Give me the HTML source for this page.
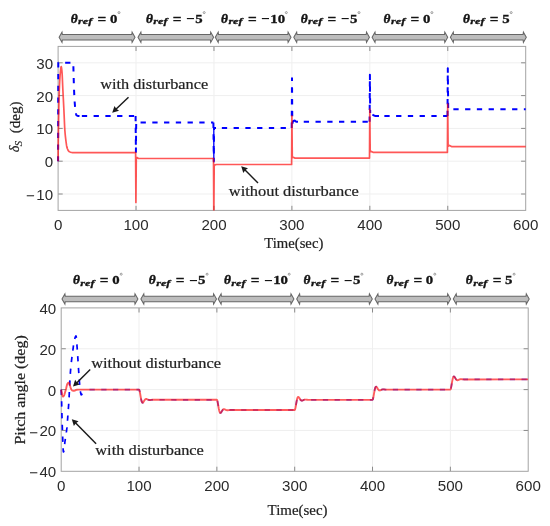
<!DOCTYPE html>
<html><head><meta charset="utf-8"><title>Figure</title><style>html,body{margin:0;padding:0;background:#fff;}svg{display:block;}</style></head><body>
<svg width="550" height="526" viewBox="0 0 550 526">
<rect width="550" height="526" fill="#fff"/>
<line x1="136.03" y1="46.4" x2="136.03" y2="210.4" stroke="#efefef" stroke-width="1"/>
<line x1="213.97" y1="46.4" x2="213.97" y2="210.4" stroke="#efefef" stroke-width="1"/>
<line x1="291.9" y1="46.4" x2="291.9" y2="210.4" stroke="#efefef" stroke-width="1"/>
<line x1="369.83" y1="46.4" x2="369.83" y2="210.4" stroke="#efefef" stroke-width="1"/>
<line x1="447.77" y1="46.4" x2="447.77" y2="210.4" stroke="#efefef" stroke-width="1"/>
<line x1="58.1" y1="194" x2="525.7" y2="194" stroke="#efefef" stroke-width="1"/>
<line x1="58.1" y1="161.2" x2="525.7" y2="161.2" stroke="#efefef" stroke-width="1"/>
<line x1="58.1" y1="128.4" x2="525.7" y2="128.4" stroke="#efefef" stroke-width="1"/>
<line x1="58.1" y1="95.6" x2="525.7" y2="95.6" stroke="#efefef" stroke-width="1"/>
<line x1="58.1" y1="62.8" x2="525.7" y2="62.8" stroke="#efefef" stroke-width="1"/>
<clipPath id="c1"><rect x="56.9" y="46.4" width="468.8" height="164"/></clipPath>
<path d="M136.03 210.4v-4.6M136.03 46.4v4.6M213.97 210.4v-4.6M213.97 46.4v4.6M291.9 210.4v-4.6M291.9 46.4v4.6M369.83 210.4v-4.6M369.83 46.4v4.6M447.77 210.4v-4.6M447.77 46.4v4.6M58.1 194h4.6M525.7 194h-4.6M58.1 161.2h4.6M525.7 161.2h-4.6M58.1 128.4h4.6M525.7 128.4h-4.6M58.1 95.6h4.6M525.7 95.6h-4.6M58.1 62.8h4.6M525.7 62.8h-4.6" stroke="#8a8a8a" stroke-width="1" fill="none"/>
<rect x="58.1" y="46.4" width="467.6" height="164" fill="none" stroke="#a3a3a3" stroke-width="1"/>
<g clip-path="url(#c1)"><path d="M58.1 161.2 L58.3 62.7 L73.3 62.7 L73.36 65.33 L73.42 67.9 L73.48 70.38 L73.54 72.75 L73.6 75 L73.7 78.62 L73.8 82.14 L73.9 85.44 L74 88.44 L74.1 91 L74.26 94.5 L74.42 97.62 L74.58 100.39 L74.74 102.84 L74.9 105 L75.04 106.75 L75.18 108.4 L75.32 109.87 L75.46 111.1 L75.6 112 L75.8 112.97 L76 113.82 L76.2 114.52 L76.4 115.02 L76.6 115.3 L76.88 115.5 L77.16 115.66 L77.44 115.78 L77.72 115.86 L78 115.9 L78.4 115.93 L78.8 115.96 L79.2 115.98 L79.6 116 L80 116" fill="none" stroke="#0000ff" stroke-width="2.0" stroke-dasharray="5.3 6.45" stroke-dashoffset="0.4" stroke-linejoin="round"/>
<path d="M80 116 L135.6 116" fill="none" stroke="#0000ff" stroke-width="2.0" stroke-dasharray="5.3 6.45" stroke-dashoffset="9.9" stroke-linejoin="round"/>
<path d="M135.6 116 L135.9 152 L136.2 122.6 L140 122.6" fill="none" stroke="#0000ff" stroke-width="2.0" stroke-dasharray="5.3 6.45" stroke-dashoffset="0" stroke-linejoin="round"/>
<path d="M140 122.6 L213.4 122.6" fill="none" stroke="#0000ff" stroke-width="2.0" stroke-dasharray="5.3 6.45" stroke-dashoffset="11.2" stroke-linejoin="round"/>
<path d="M213.4 122.6 L213.8 161.5 L214 127.9 L216 127.9" fill="none" stroke="#0000ff" stroke-width="2.0" stroke-dasharray="5.3 6.45" stroke-dashoffset="0" stroke-linejoin="round"/>
<path d="M216 127.9 L291.7 127.9" fill="none" stroke="#0000ff" stroke-width="2.0" stroke-dasharray="5.3 6.45" stroke-dashoffset="5.9" stroke-linejoin="round"/>
<path d="M291.7 127.9 L292 78.3 L292.3 123.5" fill="none" stroke="#0000ff" stroke-width="2.0" stroke-dasharray="5.3 6.45" stroke-dashoffset="0" stroke-linejoin="round"/>
<path d="M292.3 123.5 L292.55 122.65 L292.8 121.89 L293.05 121.31 L293.3 121 L293.6 120.84 L293.9 120.71 L294.2 120.63 L294.5 120.6 L294.88 120.74 L295.25 121.07 L295.62 121.41 L296 121.6 L296.5 121.68 L297 121.75 L297.5 121.79 L298 121.8" fill="none" stroke="#0000ff" stroke-width="2" stroke-linecap="butt"/>
<path d="M298 121.8 L369.6 121.8" fill="none" stroke="#0000ff" stroke-width="2.0" stroke-dasharray="5.3 6.45" stroke-dashoffset="6" stroke-linejoin="round"/>
<path d="M369.6 121.8 L369.9 74.8 L370.2 113" fill="none" stroke="#0000ff" stroke-width="2.0" stroke-dasharray="5.3 6.45" stroke-dashoffset="0" stroke-linejoin="round"/>
<path d="M372.6 114.4 L372.75 114.57 L372.9 114.73 L373.05 114.88 L373.2 115 L373.52 115.23 L373.85 115.43 L374.18 115.59 L374.5 115.7 L375 115.82 L375.5 115.91 L376 115.98 L376.5 116 L377.12 116 L377.75 116 L378.38 116 L379 116" fill="none" stroke="#0000ff" stroke-width="2"/>
<path d="M379 116 L447.5 116" fill="none" stroke="#0000ff" stroke-width="2.0" stroke-dasharray="5.3 6.45" stroke-dashoffset="6.4" stroke-linejoin="round"/>
<path d="M447.5 116 L447.8 68.2 L448.2 109.3" fill="none" stroke="#0000ff" stroke-width="2.0" stroke-dasharray="5.3 6.45" stroke-dashoffset="0" stroke-linejoin="round"/>
<path d="M448.2 109.3 L530 109.3" fill="none" stroke="#0000ff" stroke-width="2.0" stroke-dasharray="5.3 6.45" stroke-dashoffset="6.6" stroke-linejoin="round"/>
<path d="M213.8 127.6 L213.8 161" fill="none" stroke="#0000ff" stroke-width="1.3"/>
<path d="M58.1 161.2 L58.14 156.41 L58.18 151.83 L58.22 147.52 L58.26 143.55 L58.3 140 L58.36 135.24 L58.42 130.92 L58.48 126.97 L58.54 123.35 L58.6 120 L58.74 112.64 L58.88 105.74 L59.02 99.53 L59.16 94.21 L59.3 90 L59.48 85.69 L59.66 81.96 L59.84 78.79 L60.02 76.14 L60.2 74 L60.4 71.88 L60.6 69.88 L60.8 68.19 L61 67.03 L61.2 66.6 L61.36 66.9 L61.52 67.72 L61.68 68.93 L61.84 70.4 L62 72 L62.16 74.24 L62.32 77.44 L62.48 81.16 L62.64 84.99 L62.8 88.5 L63.02 92.85 L63.24 97.12 L63.46 101.35 L63.68 105.63 L63.9 110 L64.1 114.34 L64.3 119.01 L64.5 123.6 L64.7 127.7 L64.9 130.9 L65.12 133.56 L65.34 135.84 L65.56 137.83 L65.78 139.62 L66 141.3 L66.2 142.82 L66.4 144.31 L66.6 145.66 L66.8 146.79 L67 147.6 L67.42 148.79 L67.84 149.77 L68.26 150.55 L68.68 151.13 L69.1 151.5 L69.62 151.82 L70.14 152.08 L70.66 152.29 L71.18 152.43 L71.7 152.5 L72.36 152.53 L73.02 152.56 L73.68 152.58 L74.34 152.6 L75 152.6 L135.6 152.6 L135.9 202.4 L136.3 157.6 L137 157.6 L138.5 158.5 L213.5 158.5 L213.8 216 L214.2 165.6 L215 164.9 L216.5 164.5 L291.6 164.5 L291.9 115.8 L292.3 157.6 L293.2 157.3 L295 158.1 L369.5 158.1 L369.8 109 L370.2 151.8 L371 151.4 L373 152.3 L447.4 152.3 L447.7 104 L448.1 146.4 L449.5 145.4 L451.5 146.6 L530 146.6" fill="none" stroke="#ff0000" stroke-opacity="0.66" stroke-width="1.7" stroke-linejoin="round"/></g>
<g font-family="Liberation Sans, Arial, sans-serif" font-size="15.1" fill="#2b2b2b"><text x="58.1" y="229.8" text-anchor="middle">0</text>
<text x="136.03" y="229.8" text-anchor="middle">100</text>
<text x="213.97" y="229.8" text-anchor="middle">200</text>
<text x="291.9" y="229.8" text-anchor="middle">300</text>
<text x="369.83" y="229.8" text-anchor="middle">400</text>
<text x="447.77" y="229.8" text-anchor="middle">500</text>
<text x="525.7" y="229.8" text-anchor="middle">600</text>
<text x="53.1" y="200" text-anchor="end"><tspan dy="1.1">&#8722;</tspan><tspan dx="1.4" dy="-1.1">10</tspan></text>
<text x="53.1" y="167.2" text-anchor="end">0</text>
<text x="53.1" y="134.4" text-anchor="end">10</text>
<text x="53.1" y="101.6" text-anchor="end">20</text>
<text x="53.1" y="68.8" text-anchor="end">30</text></g>
<path d="M59.1 37.3 L62 32.2 L62.3 34.55 L131.8 34.55 L132.1 32.2 L135 37.3 L132.1 42.4 L131.8 40.05 L62.3 40.05 L62 42.4Z" fill="#bdbdbd" stroke="#666" stroke-width="1.05" stroke-linejoin="miter"/>
<g fill="#151515"><text x="70.7" y="22.8" font-family="Liberation Serif, serif" font-weight="bold" stroke="#151515" stroke-width="0.45" font-style="italic" font-size="13.3">&#952;</text><text x="78.1" y="24.3" font-family="Liberation Serif, serif" font-weight="bold" stroke="#151515" stroke-width="0.32" font-style="italic" font-size="8.6" textLength="14.2" lengthAdjust="spacingAndGlyphs">ref</text><text transform="translate(97.6 23.6) scale(1.22 1.2)" font-family="Liberation Serif, serif" font-weight="bold" font-size="12.6" stroke="#151515" stroke-width="0.3">=</text><text transform="translate(110 22.6) scale(1.14 1.04)" font-family="Liberation Serif, serif" font-weight="bold" stroke="#151515" stroke-width="0.32" font-size="13">0</text><circle cx="119" cy="12.6" r="1.0" fill="none" stroke="#777" stroke-width="0.7"/></g>
<path d="M138 37.3 L140.9 32.2 L141.2 34.55 L210.4 34.55 L210.7 32.2 L213.6 37.3 L210.7 42.4 L210.4 40.05 L141.2 40.05 L140.9 42.4Z" fill="#bdbdbd" stroke="#666" stroke-width="1.05" stroke-linejoin="miter"/>
<g fill="#151515"><text x="145.9" y="22.8" font-family="Liberation Serif, serif" font-weight="bold" stroke="#151515" stroke-width="0.45" font-style="italic" font-size="13.3">&#952;</text><text x="153.3" y="24.3" font-family="Liberation Serif, serif" font-weight="bold" stroke="#151515" stroke-width="0.32" font-style="italic" font-size="8.6" textLength="14.2" lengthAdjust="spacingAndGlyphs">ref</text><text transform="translate(172.8 23.6) scale(1.22 1.2)" font-family="Liberation Serif, serif" font-weight="bold" font-size="12.6" stroke="#151515" stroke-width="0.3">=</text><text transform="translate(186 23.9) scale(1.22 1.3)" font-family="Liberation Serif, serif" font-weight="bold" font-size="12.6">&#8722;</text><text transform="translate(195.2 22.6) scale(1.14 1.04)" font-family="Liberation Serif, serif" font-weight="bold" stroke="#151515" stroke-width="0.32" font-size="13">5</text><circle cx="204.2" cy="12.6" r="1.0" fill="none" stroke="#777" stroke-width="0.7"/></g>
<path d="M215.3 37.3 L218.2 32.2 L218.5 34.55 L287.8 34.55 L288.1 32.2 L291 37.3 L288.1 42.4 L287.8 40.05 L218.5 40.05 L218.2 42.4Z" fill="#bdbdbd" stroke="#666" stroke-width="1.05" stroke-linejoin="miter"/>
<g fill="#151515"><text x="221" y="22.8" font-family="Liberation Serif, serif" font-weight="bold" stroke="#151515" stroke-width="0.45" font-style="italic" font-size="13.3">&#952;</text><text x="228.4" y="24.3" font-family="Liberation Serif, serif" font-weight="bold" stroke="#151515" stroke-width="0.32" font-style="italic" font-size="8.6" textLength="14.2" lengthAdjust="spacingAndGlyphs">ref</text><text transform="translate(247.9 23.6) scale(1.22 1.2)" font-family="Liberation Serif, serif" font-weight="bold" font-size="12.6" stroke="#151515" stroke-width="0.3">=</text><text transform="translate(261.1 23.9) scale(1.22 1.3)" font-family="Liberation Serif, serif" font-weight="bold" font-size="12.6">&#8722;</text><text transform="translate(270.3 22.6) scale(1.14 1.04)" font-family="Liberation Serif, serif" font-weight="bold" stroke="#151515" stroke-width="0.32" font-size="13">10</text><circle cx="286.3" cy="12.6" r="1.0" fill="none" stroke="#777" stroke-width="0.7"/></g>
<path d="M293.8 37.3 L296.7 32.2 L297 34.55 L366.2 34.55 L366.5 32.2 L369.4 37.3 L366.5 42.4 L366.2 40.05 L297 40.05 L296.7 42.4Z" fill="#bdbdbd" stroke="#666" stroke-width="1.05" stroke-linejoin="miter"/>
<g fill="#151515"><text x="300.7" y="22.8" font-family="Liberation Serif, serif" font-weight="bold" stroke="#151515" stroke-width="0.45" font-style="italic" font-size="13.3">&#952;</text><text x="308.1" y="24.3" font-family="Liberation Serif, serif" font-weight="bold" stroke="#151515" stroke-width="0.32" font-style="italic" font-size="8.6" textLength="14.2" lengthAdjust="spacingAndGlyphs">ref</text><text transform="translate(327.6 23.6) scale(1.22 1.2)" font-family="Liberation Serif, serif" font-weight="bold" font-size="12.6" stroke="#151515" stroke-width="0.3">=</text><text transform="translate(340.8 23.9) scale(1.22 1.3)" font-family="Liberation Serif, serif" font-weight="bold" font-size="12.6">&#8722;</text><text transform="translate(350 22.6) scale(1.14 1.04)" font-family="Liberation Serif, serif" font-weight="bold" stroke="#151515" stroke-width="0.32" font-size="13">5</text><circle cx="359" cy="12.6" r="1.0" fill="none" stroke="#777" stroke-width="0.7"/></g>
<path d="M372.1 37.3 L375 32.2 L375.3 34.55 L444.5 34.55 L444.8 32.2 L447.7 37.3 L444.8 42.4 L444.5 40.05 L375.3 40.05 L375 42.4Z" fill="#bdbdbd" stroke="#666" stroke-width="1.05" stroke-linejoin="miter"/>
<g fill="#151515"><text x="383.6" y="22.8" font-family="Liberation Serif, serif" font-weight="bold" stroke="#151515" stroke-width="0.45" font-style="italic" font-size="13.3">&#952;</text><text x="391" y="24.3" font-family="Liberation Serif, serif" font-weight="bold" stroke="#151515" stroke-width="0.32" font-style="italic" font-size="8.6" textLength="14.2" lengthAdjust="spacingAndGlyphs">ref</text><text transform="translate(410.5 23.6) scale(1.22 1.2)" font-family="Liberation Serif, serif" font-weight="bold" font-size="12.6" stroke="#151515" stroke-width="0.3">=</text><text transform="translate(422.9 22.6) scale(1.14 1.04)" font-family="Liberation Serif, serif" font-weight="bold" stroke="#151515" stroke-width="0.32" font-size="13">0</text><circle cx="431.9" cy="12.6" r="1.0" fill="none" stroke="#777" stroke-width="0.7"/></g>
<path d="M450.4 37.3 L453.3 32.2 L453.6 34.55 L523.1 34.55 L523.4 32.2 L526.3 37.3 L523.4 42.4 L523.1 40.05 L453.6 40.05 L453.3 42.4Z" fill="#bdbdbd" stroke="#666" stroke-width="1.05" stroke-linejoin="miter"/>
<g fill="#151515"><text x="462.9" y="22.8" font-family="Liberation Serif, serif" font-weight="bold" stroke="#151515" stroke-width="0.45" font-style="italic" font-size="13.3">&#952;</text><text x="470.3" y="24.3" font-family="Liberation Serif, serif" font-weight="bold" stroke="#151515" stroke-width="0.32" font-style="italic" font-size="8.6" textLength="14.2" lengthAdjust="spacingAndGlyphs">ref</text><text transform="translate(489.8 23.6) scale(1.22 1.2)" font-family="Liberation Serif, serif" font-weight="bold" font-size="12.6" stroke="#151515" stroke-width="0.3">=</text><text transform="translate(502.2 22.6) scale(1.14 1.04)" font-family="Liberation Serif, serif" font-weight="bold" stroke="#151515" stroke-width="0.32" font-size="13">5</text><circle cx="511.2" cy="12.6" r="1.0" fill="none" stroke="#777" stroke-width="0.7"/></g>
<text x="100.2" y="89.3" font-family="Liberation Serif, serif" font-size="15.5" fill="#222" stroke="#222" stroke-width="0.22" text-anchor="start" textLength="108" lengthAdjust="spacingAndGlyphs">with disturbance</text>
<line x1="128.5" y1="97.2" x2="115.67" y2="109.48" stroke="#1a1a1a" stroke-width="1.45"/><path d="M112.2 112.8 L114.47 106.06 L116.32 108.86 L119.03 110.83Z" fill="#1a1a1a"/>
<text x="228.8" y="195.9" font-family="Liberation Serif, serif" font-size="15.5" fill="#222" stroke="#222" stroke-width="0.22" text-anchor="start" textLength="130" lengthAdjust="spacingAndGlyphs">without disturbance</text>
<line x1="258" y1="183" x2="244.59" y2="169.59" stroke="#1a1a1a" stroke-width="1.45"/><path d="M241.2 166.2 L247.99 168.32 L245.23 170.23 L243.32 172.99Z" fill="#1a1a1a"/>
<text x="264.3" y="247.7" font-family="Liberation Serif, serif" font-size="15.5" fill="#222" stroke="#222" stroke-width="0.22" text-anchor="start" textLength="59" lengthAdjust="spacingAndGlyphs">Time(sec)</text>
<g transform="translate(19.8 151.9) rotate(-90)" font-family="Liberation Serif, serif" fill="#222"><text x="-0.3" y="-1.1" font-style="italic" font-size="14.2" stroke="#222" stroke-width="0.22">&#948;</text><text x="5.7" y="1.9" font-style="italic" font-size="10.8" stroke="#222" stroke-width="0.12">S</text><text x="18.6" y="0" font-size="15.5" stroke="#222" stroke-width="0.22" textLength="31.9" lengthAdjust="spacingAndGlyphs">(deg)</text></g>
<line x1="139.03" y1="307.9" x2="139.03" y2="471.3" stroke="#efefef" stroke-width="1"/>
<line x1="216.87" y1="307.9" x2="216.87" y2="471.3" stroke="#efefef" stroke-width="1"/>
<line x1="294.7" y1="307.9" x2="294.7" y2="471.3" stroke="#efefef" stroke-width="1"/>
<line x1="372.53" y1="307.9" x2="372.53" y2="471.3" stroke="#efefef" stroke-width="1"/>
<line x1="450.37" y1="307.9" x2="450.37" y2="471.3" stroke="#efefef" stroke-width="1"/>
<line x1="61.2" y1="430.45" x2="528.2" y2="430.45" stroke="#efefef" stroke-width="1"/>
<line x1="61.2" y1="389.6" x2="528.2" y2="389.6" stroke="#efefef" stroke-width="1"/>
<line x1="61.2" y1="348.75" x2="528.2" y2="348.75" stroke="#efefef" stroke-width="1"/>
<clipPath id="c2"><rect x="60" y="307.9" width="468.2" height="163.4"/></clipPath>
<path d="M139.03 471.3v-4.6M139.03 307.9v4.6M216.87 471.3v-4.6M216.87 307.9v4.6M294.7 471.3v-4.6M294.7 307.9v4.6M372.53 471.3v-4.6M372.53 307.9v4.6M450.37 471.3v-4.6M450.37 307.9v4.6M61.2 430.45h4.6M528.2 430.45h-4.6M61.2 389.6h4.6M528.2 389.6h-4.6M61.2 348.75h4.6M528.2 348.75h-4.6" stroke="#8a8a8a" stroke-width="1" fill="none"/>
<rect x="61.2" y="307.9" width="467" height="163.4" fill="none" stroke="#a3a3a3" stroke-width="1"/>
<g clip-path="url(#c2)"><path d="M61.2 389.6 L61.26 390.75 L61.32 392.08 L61.38 393.58 L61.44 395.22 L61.5 397 L61.58 399.83 L61.66 403.23 L61.74 406.87 L61.82 410.44 L61.9 413.6 L62.04 418.46 L62.18 423.04 L62.32 427.33 L62.46 431.32 L62.6 435 L62.76 439.35 L62.92 443.88 L63.08 447.95 L63.24 450.88 L63.4 452 L63.52 451.92 L63.64 451.69 L63.76 451.36 L63.88 450.95 L64 450.5 L64.18 449.41 L64.36 447.73 L64.54 445.73 L64.72 443.72 L64.9 442 L65.3 439.03 L65.7 436.48 L66.1 433.99 L66.5 431.25 L66.9 427.9 L67.12 425.57 L67.34 422.81 L67.56 419.8 L67.78 416.67 L68 413.6 L68.2 410.93 L68.4 408.3 L68.6 405.57 L68.8 402.61 L69 399.3 L69.08 397.75 L69.16 396 L69.24 394.17 L69.32 392.37 L69.4 390.7 L69.64 385.99 L69.88 381.38 L70.12 377.04 L70.36 373.15 L70.6 369.9 L71.06 364.86 L71.52 360.6 L71.98 356.86 L72.44 353.41 L72.9 350 L73.18 347.84 L73.46 345.66 L73.74 343.61 L74.02 341.84 L74.3 340.5 L74.64 339.19 L74.98 337.97 L75.32 336.95 L75.66 336.26 L76 336 L76.26 336.93 L76.52 339.35 L76.78 342.7 L77.04 346.44 L77.3 350 L77.56 353.59 L77.82 357.61 L78.08 361.84 L78.34 366.05 L78.6 370 L78.82 373.22 L79.04 376.45 L79.26 379.57 L79.48 382.46 L79.7 385 L79.86 386.68 L80.02 388.29 L80.18 389.77 L80.34 391.03 L80.5 392 L80.66 392.8 L80.82 393.56 L80.98 394.2 L81.14 394.64 L81.3 394.8 L81.54 394.69 L81.78 394.39 L82.02 393.97 L82.26 393.48 L82.5 393 L82.74 392.38 L82.98 391.58 L83.22 390.76 L83.46 390.1 L83.7 389.8 L83.96 389.73 L84.22 389.67 L84.48 389.63 L84.74 389.61 L85 389.6" fill="none" stroke="#0000ff" stroke-width="1.7" stroke-dasharray="5.3 6.45" stroke-linejoin="round"/>
<path d="M85 389.6 L139.03 389.6 L139.42 390.23 L139.81 391.85 L140.2 394.02 L140.59 396.36 L140.98 398.54 L141.37 400.36 L141.76 401.67 L142.15 402.45 L142.54 402.73 L142.93 402.6 L143.31 402.17 L143.7 401.56 L144.09 400.89 L144.48 400.26 L144.87 399.72 L145.26 399.32 L145.65 399.08 L146.04 398.98 L146.43 399 L146.82 399.12 L147.21 399.29 L147.6 399.48 L147.98 399.66 L148.37 399.82 L148.76 399.94 L149.15 400.02 L149.54 400.05 L149.93 400.05 L150.32 400.02 L150.71 399.97 L151.1 399.92 L151.49 399.86 L151.88 399.82 L152.27 399.78 L152.65 399.76 L216.87 399.81 L217.26 400.44 L217.65 402.06 L218.03 404.23 L218.42 406.57 L218.81 408.76 L219.2 410.57 L219.59 411.88 L219.98 412.66 L220.37 412.94 L220.76 412.81 L221.15 412.38 L221.54 411.77 L221.93 411.11 L222.31 410.47 L222.7 409.93 L223.09 409.54 L223.48 409.29 L223.87 409.19 L224.26 409.22 L224.65 409.33 L225.04 409.5 L225.43 409.69 L225.82 409.87 L226.21 410.03 L226.6 410.15 L226.99 410.23 L227.37 410.26 L227.76 410.26 L228.15 410.23 L228.54 410.18 L228.93 410.13 L229.32 410.08 L229.71 410.03 L230.1 409.99 L230.49 409.97 L294.7 410.02 L295.09 409.39 L295.48 407.78 L295.87 405.61 L296.26 403.27 L296.65 401.08 L297.04 399.27 L297.42 397.95 L297.81 397.17 L298.2 396.89 L298.59 397.03 L298.98 397.46 L299.37 398.06 L299.76 398.73 L300.15 399.37 L300.54 399.9 L300.93 400.3 L301.32 400.55 L301.71 400.64 L302.09 400.62 L302.48 400.51 L302.87 400.34 L303.26 400.15 L303.65 399.96 L304.04 399.81 L304.43 399.69 L304.82 399.61 L305.21 399.58 L305.6 399.58 L305.99 399.61 L306.38 399.65 L306.76 399.71 L307.15 399.76 L307.54 399.81 L307.93 399.84 L308.32 399.87 L372.53 399.81 L372.92 399.18 L373.31 397.57 L373.7 395.39 L374.09 393.06 L374.48 390.87 L374.87 389.06 L375.26 387.74 L375.65 386.96 L376.04 386.68 L376.43 386.81 L376.81 387.24 L377.2 387.85 L377.59 388.52 L377.98 389.15 L378.37 389.69 L378.76 390.09 L379.15 390.33 L379.54 390.43 L379.93 390.41 L380.32 390.3 L380.71 390.13 L381.1 389.94 L381.48 389.75 L381.87 389.59 L382.26 389.47 L382.65 389.4 L383.04 389.36 L383.43 389.37 L383.82 389.4 L384.21 389.44 L384.6 389.5 L384.99 389.55 L385.38 389.6 L385.76 389.63 L386.15 389.66 L450.37 389.6 L450.76 388.97 L451.15 387.35 L451.53 385.18 L451.92 382.84 L452.31 380.66 L452.7 378.84 L453.09 377.53 L453.48 376.75 L453.87 376.47 L454.26 376.6 L454.65 377.03 L455.04 377.64 L455.43 378.31 L455.81 378.94 L456.2 379.48 L456.59 379.88 L456.98 380.12 L457.37 380.22 L457.76 380.2 L458.15 380.08 L458.54 379.91 L458.93 379.72 L459.32 379.54 L459.71 379.38 L460.1 379.26 L460.49 379.18 L460.87 379.15 L461.26 379.15 L461.65 379.18 L462.04 379.23 L462.43 379.28 L462.82 379.34 L463.21 379.38 L463.6 379.42 L463.99 379.44 L528.2 379.39" fill="none" stroke="#0000ff" stroke-width="1.7" stroke-opacity="0.6" stroke-dasharray="5.3 6.45" stroke-dashoffset="7.27" stroke-linejoin="round"/>
<path d="M61.2 389.6 L61.36 390.66 L61.52 391.66 L61.68 392.56 L61.84 393.35 L62 394 L62.2 394.73 L62.4 395.43 L62.6 396.03 L62.8 396.44 L63 396.6 L63.2 396.54 L63.4 396.37 L63.6 396.12 L63.8 395.82 L64 395.5 L64.2 395.09 L64.4 394.52 L64.6 393.87 L64.8 393.17 L65 392.5 L65.2 391.84 L65.4 391.15 L65.6 390.45 L65.8 389.73 L66 389 L66.26 387.94 L66.52 386.77 L66.78 385.62 L67.04 384.65 L67.3 384 L67.56 383.57 L67.82 383.19 L68.08 382.88 L68.34 382.68 L68.6 382.6 L68.84 382.76 L69.08 383.16 L69.32 383.73 L69.56 384.37 L69.8 385 L70.04 385.7 L70.28 386.56 L70.52 387.44 L70.76 388.23 L71 388.8 L71.3 389.32 L71.6 389.78 L71.9 390.17 L72.2 390.45 L72.5 390.6 L72.8 390.67 L73.1 390.72 L73.4 390.76 L73.7 390.79 L74 390.8 L74.4 390.73 L74.8 390.57 L75.2 390.36 L75.6 390.15 L76 390 L76.4 389.89 L76.8 389.78 L77.2 389.69 L77.6 389.62 L78 389.6 L80.4 389.6 L82.8 389.6 L85.2 389.6 L87.6 389.6 L90 389.6 L139.03 389.6 L139.42 390.23 L139.81 391.85 L140.2 394.02 L140.59 396.36 L140.98 398.54 L141.37 400.36 L141.76 401.67 L142.15 402.45 L142.54 402.73 L142.93 402.6 L143.31 402.17 L143.7 401.56 L144.09 400.89 L144.48 400.26 L144.87 399.72 L145.26 399.32 L145.65 399.08 L146.04 398.98 L146.43 399 L146.82 399.12 L147.21 399.29 L147.6 399.48 L147.98 399.66 L148.37 399.82 L148.76 399.94 L149.15 400.02 L149.54 400.05 L149.93 400.05 L150.32 400.02 L150.71 399.97 L151.1 399.92 L151.49 399.86 L151.88 399.82 L152.27 399.78 L152.65 399.76 L216.87 399.81 L217.26 400.44 L217.65 402.06 L218.03 404.23 L218.42 406.57 L218.81 408.76 L219.2 410.57 L219.59 411.88 L219.98 412.66 L220.37 412.94 L220.76 412.81 L221.15 412.38 L221.54 411.77 L221.93 411.11 L222.31 410.47 L222.7 409.93 L223.09 409.54 L223.48 409.29 L223.87 409.19 L224.26 409.22 L224.65 409.33 L225.04 409.5 L225.43 409.69 L225.82 409.87 L226.21 410.03 L226.6 410.15 L226.99 410.23 L227.37 410.26 L227.76 410.26 L228.15 410.23 L228.54 410.18 L228.93 410.13 L229.32 410.08 L229.71 410.03 L230.1 409.99 L230.49 409.97 L294.7 410.02 L295.09 409.39 L295.48 407.78 L295.87 405.61 L296.26 403.27 L296.65 401.08 L297.04 399.27 L297.42 397.95 L297.81 397.17 L298.2 396.89 L298.59 397.03 L298.98 397.46 L299.37 398.06 L299.76 398.73 L300.15 399.37 L300.54 399.9 L300.93 400.3 L301.32 400.55 L301.71 400.64 L302.09 400.62 L302.48 400.51 L302.87 400.34 L303.26 400.15 L303.65 399.96 L304.04 399.81 L304.43 399.69 L304.82 399.61 L305.21 399.58 L305.6 399.58 L305.99 399.61 L306.38 399.65 L306.76 399.71 L307.15 399.76 L307.54 399.81 L307.93 399.84 L308.32 399.87 L372.53 399.81 L372.92 399.18 L373.31 397.57 L373.7 395.39 L374.09 393.06 L374.48 390.87 L374.87 389.06 L375.26 387.74 L375.65 386.96 L376.04 386.68 L376.43 386.81 L376.81 387.24 L377.2 387.85 L377.59 388.52 L377.98 389.15 L378.37 389.69 L378.76 390.09 L379.15 390.33 L379.54 390.43 L379.93 390.41 L380.32 390.3 L380.71 390.13 L381.1 389.94 L381.48 389.75 L381.87 389.59 L382.26 389.47 L382.65 389.4 L383.04 389.36 L383.43 389.37 L383.82 389.4 L384.21 389.44 L384.6 389.5 L384.99 389.55 L385.38 389.6 L385.76 389.63 L386.15 389.66 L450.37 389.6 L450.76 388.97 L451.15 387.35 L451.53 385.18 L451.92 382.84 L452.31 380.66 L452.7 378.84 L453.09 377.53 L453.48 376.75 L453.87 376.47 L454.26 376.6 L454.65 377.03 L455.04 377.64 L455.43 378.31 L455.81 378.94 L456.2 379.48 L456.59 379.88 L456.98 380.12 L457.37 380.22 L457.76 380.2 L458.15 380.08 L458.54 379.91 L458.93 379.72 L459.32 379.54 L459.71 379.38 L460.1 379.26 L460.49 379.18 L460.87 379.15 L461.26 379.15 L461.65 379.18 L462.04 379.23 L462.43 379.28 L462.82 379.34 L463.21 379.38 L463.6 379.42 L463.99 379.44 L528.2 379.39" fill="none" stroke="#ff0000" stroke-opacity="0.64" stroke-width="1.9" stroke-linejoin="round"/></g>
<g font-family="Liberation Sans, Arial, sans-serif" font-size="15.1" fill="#2b2b2b"><text x="61.2" y="490.7" text-anchor="middle">0</text>
<text x="139.03" y="490.7" text-anchor="middle">100</text>
<text x="216.87" y="490.7" text-anchor="middle">200</text>
<text x="294.7" y="490.7" text-anchor="middle">300</text>
<text x="372.53" y="490.7" text-anchor="middle">400</text>
<text x="450.37" y="490.7" text-anchor="middle">500</text>
<text x="528.2" y="490.7" text-anchor="middle">600</text>
<text x="56.2" y="477.3" text-anchor="end"><tspan dy="1.1">&#8722;</tspan><tspan dx="1.4" dy="-1.1">40</tspan></text>
<text x="56.2" y="436.45" text-anchor="end"><tspan dy="1.1">&#8722;</tspan><tspan dx="1.4" dy="-1.1">20</tspan></text>
<text x="56.2" y="395.6" text-anchor="end">0</text>
<text x="56.2" y="354.75" text-anchor="end">20</text>
<text x="56.2" y="313.9" text-anchor="end">40</text></g>
<path d="M62 298.9 L64.9 293.8 L65.2 296.15 L134.7 296.15 L135 293.8 L137.9 298.9 L135 304 L134.7 301.65 L65.2 301.65 L64.9 304Z" fill="#bdbdbd" stroke="#666" stroke-width="1.05" stroke-linejoin="miter"/>
<g fill="#151515"><text x="72.9" y="284.4" font-family="Liberation Serif, serif" font-weight="bold" stroke="#151515" stroke-width="0.45" font-style="italic" font-size="13.3">&#952;</text><text x="80.3" y="285.9" font-family="Liberation Serif, serif" font-weight="bold" stroke="#151515" stroke-width="0.32" font-style="italic" font-size="8.6" textLength="14.2" lengthAdjust="spacingAndGlyphs">ref</text><text transform="translate(99.8 285.2) scale(1.22 1.2)" font-family="Liberation Serif, serif" font-weight="bold" font-size="12.6" stroke="#151515" stroke-width="0.3">=</text><text transform="translate(112.2 284.2) scale(1.14 1.04)" font-family="Liberation Serif, serif" font-weight="bold" stroke="#151515" stroke-width="0.32" font-size="13">0</text><circle cx="121.2" cy="274.2" r="1.0" fill="none" stroke="#777" stroke-width="0.7"/></g>
<path d="M140.9 298.9 L143.8 293.8 L144.1 296.15 L213.3 296.15 L213.6 293.8 L216.5 298.9 L213.6 304 L213.3 301.65 L144.1 301.65 L143.8 304Z" fill="#bdbdbd" stroke="#666" stroke-width="1.05" stroke-linejoin="miter"/>
<g fill="#151515"><text x="148.8" y="284.4" font-family="Liberation Serif, serif" font-weight="bold" stroke="#151515" stroke-width="0.45" font-style="italic" font-size="13.3">&#952;</text><text x="156.2" y="285.9" font-family="Liberation Serif, serif" font-weight="bold" stroke="#151515" stroke-width="0.32" font-style="italic" font-size="8.6" textLength="14.2" lengthAdjust="spacingAndGlyphs">ref</text><text transform="translate(175.7 285.2) scale(1.22 1.2)" font-family="Liberation Serif, serif" font-weight="bold" font-size="12.6" stroke="#151515" stroke-width="0.3">=</text><text transform="translate(188.9 285.5) scale(1.22 1.3)" font-family="Liberation Serif, serif" font-weight="bold" font-size="12.6">&#8722;</text><text transform="translate(198.1 284.2) scale(1.14 1.04)" font-family="Liberation Serif, serif" font-weight="bold" stroke="#151515" stroke-width="0.32" font-size="13">5</text><circle cx="207.1" cy="274.2" r="1.0" fill="none" stroke="#777" stroke-width="0.7"/></g>
<path d="M218.2 298.9 L221.1 293.8 L221.4 296.15 L290.7 296.15 L291 293.8 L293.9 298.9 L291 304 L290.7 301.65 L221.4 301.65 L221.1 304Z" fill="#bdbdbd" stroke="#666" stroke-width="1.05" stroke-linejoin="miter"/>
<g fill="#151515"><text x="223.9" y="284.4" font-family="Liberation Serif, serif" font-weight="bold" stroke="#151515" stroke-width="0.45" font-style="italic" font-size="13.3">&#952;</text><text x="231.3" y="285.9" font-family="Liberation Serif, serif" font-weight="bold" stroke="#151515" stroke-width="0.32" font-style="italic" font-size="8.6" textLength="14.2" lengthAdjust="spacingAndGlyphs">ref</text><text transform="translate(250.8 285.2) scale(1.22 1.2)" font-family="Liberation Serif, serif" font-weight="bold" font-size="12.6" stroke="#151515" stroke-width="0.3">=</text><text transform="translate(264 285.5) scale(1.22 1.3)" font-family="Liberation Serif, serif" font-weight="bold" font-size="12.6">&#8722;</text><text transform="translate(273.2 284.2) scale(1.14 1.04)" font-family="Liberation Serif, serif" font-weight="bold" stroke="#151515" stroke-width="0.32" font-size="13">10</text><circle cx="289.2" cy="274.2" r="1.0" fill="none" stroke="#777" stroke-width="0.7"/></g>
<path d="M296.7 298.9 L299.6 293.8 L299.9 296.15 L369.1 296.15 L369.4 293.8 L372.3 298.9 L369.4 304 L369.1 301.65 L299.9 301.65 L299.6 304Z" fill="#bdbdbd" stroke="#666" stroke-width="1.05" stroke-linejoin="miter"/>
<g fill="#151515"><text x="303.6" y="284.4" font-family="Liberation Serif, serif" font-weight="bold" stroke="#151515" stroke-width="0.45" font-style="italic" font-size="13.3">&#952;</text><text x="311" y="285.9" font-family="Liberation Serif, serif" font-weight="bold" stroke="#151515" stroke-width="0.32" font-style="italic" font-size="8.6" textLength="14.2" lengthAdjust="spacingAndGlyphs">ref</text><text transform="translate(330.5 285.2) scale(1.22 1.2)" font-family="Liberation Serif, serif" font-weight="bold" font-size="12.6" stroke="#151515" stroke-width="0.3">=</text><text transform="translate(343.7 285.5) scale(1.22 1.3)" font-family="Liberation Serif, serif" font-weight="bold" font-size="12.6">&#8722;</text><text transform="translate(352.9 284.2) scale(1.14 1.04)" font-family="Liberation Serif, serif" font-weight="bold" stroke="#151515" stroke-width="0.32" font-size="13">5</text><circle cx="361.9" cy="274.2" r="1.0" fill="none" stroke="#777" stroke-width="0.7"/></g>
<path d="M375 298.9 L377.9 293.8 L378.2 296.15 L447.4 296.15 L447.7 293.8 L450.6 298.9 L447.7 304 L447.4 301.65 L378.2 301.65 L377.9 304Z" fill="#bdbdbd" stroke="#666" stroke-width="1.05" stroke-linejoin="miter"/>
<g fill="#151515"><text x="386.5" y="284.4" font-family="Liberation Serif, serif" font-weight="bold" stroke="#151515" stroke-width="0.45" font-style="italic" font-size="13.3">&#952;</text><text x="393.9" y="285.9" font-family="Liberation Serif, serif" font-weight="bold" stroke="#151515" stroke-width="0.32" font-style="italic" font-size="8.6" textLength="14.2" lengthAdjust="spacingAndGlyphs">ref</text><text transform="translate(413.4 285.2) scale(1.22 1.2)" font-family="Liberation Serif, serif" font-weight="bold" font-size="12.6" stroke="#151515" stroke-width="0.3">=</text><text transform="translate(425.8 284.2) scale(1.14 1.04)" font-family="Liberation Serif, serif" font-weight="bold" stroke="#151515" stroke-width="0.32" font-size="13">0</text><circle cx="434.8" cy="274.2" r="1.0" fill="none" stroke="#777" stroke-width="0.7"/></g>
<path d="M453.3 298.9 L456.2 293.8 L456.5 296.15 L526 296.15 L526.3 293.8 L529.2 298.9 L526.3 304 L526 301.65 L456.5 301.65 L456.2 304Z" fill="#bdbdbd" stroke="#666" stroke-width="1.05" stroke-linejoin="miter"/>
<g fill="#151515"><text x="465.8" y="284.4" font-family="Liberation Serif, serif" font-weight="bold" stroke="#151515" stroke-width="0.45" font-style="italic" font-size="13.3">&#952;</text><text x="473.2" y="285.9" font-family="Liberation Serif, serif" font-weight="bold" stroke="#151515" stroke-width="0.32" font-style="italic" font-size="8.6" textLength="14.2" lengthAdjust="spacingAndGlyphs">ref</text><text transform="translate(492.7 285.2) scale(1.22 1.2)" font-family="Liberation Serif, serif" font-weight="bold" font-size="12.6" stroke="#151515" stroke-width="0.3">=</text><text transform="translate(505.1 284.2) scale(1.14 1.04)" font-family="Liberation Serif, serif" font-weight="bold" stroke="#151515" stroke-width="0.32" font-size="13">5</text><circle cx="514.1" cy="274.2" r="1.0" fill="none" stroke="#777" stroke-width="0.7"/></g>
<text x="91.2" y="367.8" font-family="Liberation Serif, serif" font-size="15.5" fill="#222" stroke="#222" stroke-width="0.22" text-anchor="start" textLength="129.8" lengthAdjust="spacingAndGlyphs">without disturbance</text>
<line x1="90.2" y1="369.5" x2="76.4" y2="383.22" stroke="#1a1a1a" stroke-width="1.45"/><path d="M73 386.6 L75.14 379.82 L77.04 382.58 L79.79 384.5Z" fill="#1a1a1a"/>
<text x="95.3" y="455" font-family="Liberation Serif, serif" font-size="15.5" fill="#222" stroke="#222" stroke-width="0.22" text-anchor="start" textLength="108.6" lengthAdjust="spacingAndGlyphs">with disturbance</text>
<line x1="96.1" y1="443.7" x2="75.18" y2="422.61" stroke="#1a1a1a" stroke-width="1.45"/><path d="M71.8 419.2 L78.58 421.35 L75.81 423.25 L73.89 426Z" fill="#1a1a1a"/>
<text x="267.6" y="514.5" font-family="Liberation Serif, serif" font-size="15.5" fill="#222" stroke="#222" stroke-width="0.22" text-anchor="start" textLength="60" lengthAdjust="spacingAndGlyphs">Time(sec)</text>
<text transform="translate(24.6 444.6) rotate(-90)" font-family="Liberation Serif, serif" font-size="15.3" fill="#222" stroke="#222" stroke-width="0.22" textLength="109.4" lengthAdjust="spacingAndGlyphs">Pitch angle (deg)</text>
</svg>
</body></html>
